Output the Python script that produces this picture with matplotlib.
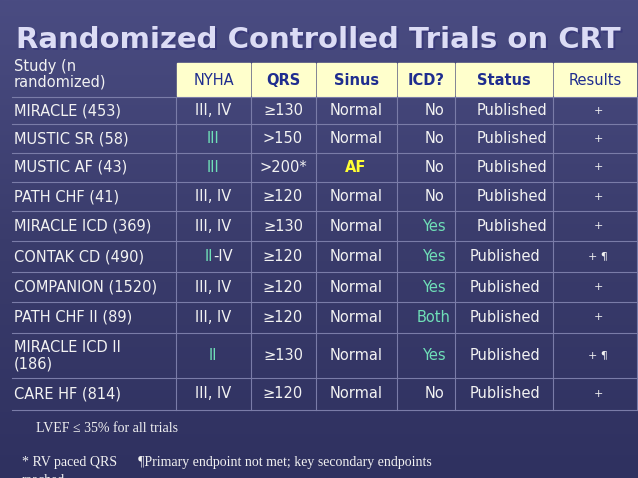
import matplotlib
matplotlib.use("Agg")
import matplotlib.pyplot as plt
import numpy as np

headers = ["NYHA", "QRS", "Sinus", "ICD?", "Status", "Results"]
studies = ["MIRACLE (453)", "MUSTIC SR (58)", "MUSTIC AF (43)", "PATH CHF (41)",
           "MIRACLE ICD (369)", "CONTAK CD (490)", "COMPANION (1520)",
           "PATH CHF II (89)", "MIRACLE ICD II\n(186)", "CARE HF (814)"]
nyha = ["III, IV", "III", "III", "III, IV", "III, IV", "II-IV", "III, IV", "III, IV", "II", "III, IV"]
qrs = ["≥130", ">150", ">200*", "≥120", "≥130", "≥120", "≥120", "≥120", "≥130", "≥120"]
sinus = ["Normal", "Normal", "AF", "Normal", "Normal", "Normal", "Normal", "Normal", "Normal", "Normal"]
icd = ["No", "No", "No", "No", "Yes", "Yes", "Yes", "Both", "Yes", "No"]
status = ["Published"] * 10
results = ["+", "+", "+", "+", "+", "+ ¶", "+", "+", "+ ¶", "+"]

WHITE = "#f2f2f2"
GREEN = "#6fe0b8"
YELLOW = "#ffff33"
HDR_BG = "#ffffcc"
HDR_FG = "#1f2d8f"

fig = plt.figure(figsize=(6.38, 4.78), dpi=100)
ax = fig.add_axes([0, 0, 1, 1])
ax.set_xlim(0, 638)
ax.set_ylim(478, 0)
ax.axis("off")

# background gradient
grad = np.linspace(0, 1, 256).reshape(-1, 1)
ax.imshow(grad, extent=[0, 638, 478, 0], cmap=matplotlib.colors.LinearSegmentedColormap.from_list(
    "bg", ["#4a4c82", "#3a3c6c", "#2f3160"]), aspect="auto", zorder=0)

ax.text(320, 42, "Randomized Controlled Trials on CRT", ha="center", va="center",
        fontsize=21, fontweight="bold", color="#3a3a7a", zorder=3)
ax.text(318, 40, "Randomized Controlled Trials on CRT", ha="center", va="center",
        fontsize=21, fontweight="bold", color="#dcdcf5", zorder=4)

col_x = [12, 176, 251, 316, 397, 455, 553, 637]
row_top = [97, 124, 153, 182, 211, 241, 272, 302, 333, 378, 410]

# header
ax.text(14, 74, "Study (n\nrandomized)", ha="left", va="center", fontsize=10.5,
        color=WHITE, linespacing=1.0)
for j, h in enumerate(headers):
    x0, x1 = col_x[j + 1], col_x[j + 2]
    ax.add_patch(plt.Rectangle((x0 + 1, 63), x1 - x0 - 2, 33, color=HDR_BG, zorder=2))
    ax.text((x0 + x1) / 2, 80, h, ha="center", va="center", fontsize=10.5,
            color=HDR_FG, fontweight="bold" if h in ("QRS", "Sinus", "ICD?", "Status") else "normal", zorder=3)

# grid lines
lc = "#7a7ca8"
for y in row_top:
    ax.plot([col_x[0], col_x[-1]], [y, y], color=lc, lw=0.8, zorder=2)
for x in col_x[1:]:
    ax.plot([x, x], [row_top[0], row_top[-1]], color=lc, lw=0.8, zorder=2)

for i in range(len(studies)):
    yc = (row_top[i] + row_top[i + 1]) / 2
    ax.text(14, yc, studies[i], ha="left", va="center", fontsize=10.5, color=WHITE,
            linespacing=1.1, zorder=3)
    nc = GREEN if nyha[i] in ("III", "II") and i in (1, 2, 8) else WHITE
    if nyha[i] == "II-IV":
        ax.text(213, yc, "II", ha="right", va="center", fontsize=10.5, color=GREEN, zorder=3)
        ax.text(213, yc, "-IV", ha="left", va="center", fontsize=10.5, color=WHITE, zorder=3)
    else:
        ax.text(213, yc, nyha[i], ha="center", va="center", fontsize=10.5, color=nc, zorder=3)
    ax.text(283, yc, qrs[i], ha="center", va="center", fontsize=10.5, color=WHITE, zorder=3)
    ax.text(356, yc, sinus[i], ha="center", va="center", fontsize=10.5,
            color=YELLOW if sinus[i] == "AF" else WHITE,
            fontweight="bold" if sinus[i] == "AF" else "normal", zorder=3)
    ax.text(434, yc, icd[i], ha="center", va="center", fontsize=10.5,
            color=GREEN if icd[i] in ("Yes", "Both") else WHITE, zorder=3)
    if i < 5:
        ax.text(512, yc, status[i], ha="center", va="center", fontsize=10.5, color=WHITE, zorder=3)
    else:
        ax.text(470, yc, status[i], ha="left", va="center", fontsize=10.5, color=WHITE, zorder=3)
    ax.text(598, yc, results[i], ha="center", va="center", fontsize=8, color=WHITE, zorder=3)

ax.text(36, 429, "LVEF ≤ 35% for all trials", ha="left", va="center", fontsize=10,
        color=WHITE, family="Liberation Serif")
ax.text(22, 456, "* RV paced QRS      ¶Primary endpoint not met; key secondary endpoints\nreached",
        ha="left", va="top", fontsize=10, color=WHITE, family="Liberation Serif",
        linespacing=1.5)

fig.savefig("out.png", dpi=100)
